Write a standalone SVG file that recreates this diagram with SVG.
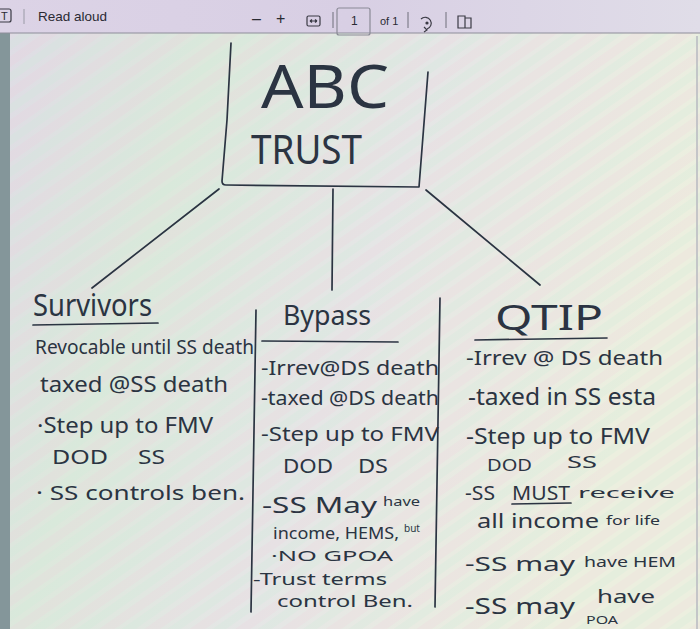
<svg xmlns="http://www.w3.org/2000/svg" width="700" height="629" viewBox="0 0 700 629">
<defs>
<linearGradient id="paper" x1="0" y1="0" x2="1" y2="0.3">
<stop offset="0" stop-color="#dfdbe6"/>
<stop offset="0.3" stop-color="#dde8dc"/>
<stop offset="0.6" stop-color="#e5e6e6"/>
<stop offset="1" stop-color="#ecefdf"/>
</linearGradient>
<pattern id="moire" width="26" height="26" patternUnits="userSpaceOnUse" patternTransform="rotate(-35)">
<rect width="26" height="9" fill="#f2c9d8" opacity="0.16"/>
<rect y="13" width="26" height="8" fill="#c9ecd6" opacity="0.2"/>
</pattern>
<linearGradient id="bar" x1="0" y1="0" x2="1" y2="0">
<stop offset="0" stop-color="#dcd3e6"/>
<stop offset="0.5" stop-color="#d8cfe4"/>
<stop offset="1" stop-color="#e0dde8"/>
</linearGradient>
<style>
.ink{fill:none;stroke:#2b3442;stroke-width:1.7;stroke-linecap:round;stroke-linejoin:round}
.hw{font-family:"Noto Sans","DejaVu Sans",sans-serif;fill:#2b3442}
.ui{font-family:"Liberation Sans","Noto Sans",sans-serif;fill:#2a2a33}
.uil{fill:none;stroke:#3a3a44;stroke-width:1.2}
</style>
</defs>

<!-- screen / page background -->
<rect x="0" y="0" width="700" height="629" fill="url(#paper)"/>
<rect x="0" y="33" width="700" height="596" fill="url(#moire)"/>
<rect x="0" y="33" width="10" height="596" fill="#84969a"/>
<line x1="697" y1="36" x2="697" y2="629" stroke="#b7b8c0" stroke-width="1.5"/>

<!-- viewer toolbar -->
<g id="toolbar">
<rect x="0" y="0" width="700" height="33" fill="url(#bar)"/>
<line x1="0" y1="33" x2="700" y2="33" stroke="#8d8d99" stroke-width="1.2"/>
<rect x="-2" y="9" width="13" height="13" rx="2" class="uil"/>
<text x="1" y="20" class="ui" font-size="11">T</text>
<line x1="24" y1="9" x2="24" y2="24" stroke="#9a9aa6"/>
<text x="38" y="21" class="ui" font-size="13.5">Read aloud</text>
<text x="252" y="24" class="ui" font-size="16">–</text>
<text x="276" y="24" class="ui" font-size="16">+</text>
<rect x="307" y="16" width="13" height="10" rx="1.5" class="uil"/>
<path d="M310,21 H317 M310,21 l2,-1.5 M310,21 l2,1.5 M317,21 l-2,-1.5 M317,21 l-2,1.5" class="uil" stroke-width="0.9"/>
<line x1="333" y1="12" x2="333" y2="28" stroke="#6e6e7a"/>
<rect x="337" y="8" width="33" height="27" rx="2" fill="none" stroke="#8a8a96" stroke-width="1.2"/>
<text x="351" y="25" class="ui" font-size="12">1</text>
<text x="380" y="25" class="ui" font-size="11">of 1</text>
<line x1="408" y1="12" x2="408" y2="28" stroke="#6e6e7a"/>
<path d="M421,19 A6,6 0 1 1 427,29" class="uil" stroke-width="1.5"/>
<circle cx="427" cy="23" r="1.6" fill="#3a3a44"/>
<path d="M424,27 L427,30 L424,32" class="uil" stroke-width="1.2"/>
<line x1="446" y1="12" x2="446" y2="28" stroke="#6e6e7a"/>
<path d="M458,16 H465 V28 H458 Z M465,18 H471 V28 H465" class="uil" stroke="#7c7c88"/>
</g>

<!-- connectors -->
<g id="connectors">
<path class="ink" d="M219,189 L92,288"/>
<path class="ink" d="M333,189 L332,290"/>
<path class="ink" d="M426,190 L540,285"/>
</g>

<!-- root node -->
<g id="abc-trust">
<path class="ink" d="M231,43 L227,120 L222,181 Q222,185 226,185 L419,187 L428,72"/>
<text x="261" y="108" class="hw" font-size="60" textLength="128" lengthAdjust="spacingAndGlyphs">ABC</text>
<text x="251" y="164" class="hw" font-size="40" textLength="111" lengthAdjust="spacingAndGlyphs">TRUST</text>
</g>

<!-- column dividers -->
<g id="dividers">
<path class="ink" d="M256,310 L251,612"/>
<path class="ink" d="M440,298 L435,607"/>
</g>

<g id="survivors">
<text x="33" y="316" class="hw" font-size="30" textLength="119" lengthAdjust="spacingAndGlyphs">Survivors</text>
<path class="ink" d="M33,325 L158,323"/>
<text x="35" y="354" class="hw" font-size="20" textLength="219" lengthAdjust="spacingAndGlyphs">Revocable until SS death</text>
<text x="40" y="392" class="hw" font-size="22" textLength="188" lengthAdjust="spacingAndGlyphs">taxed @SS death</text>
<text x="37" y="433" class="hw" font-size="21" textLength="176" lengthAdjust="spacingAndGlyphs">·Step up to FMV</text>
<text class="hw" font-size="19" y="464"><tspan x="52" textLength="56" lengthAdjust="spacingAndGlyphs">DOD</tspan> <tspan x="138" textLength="27" lengthAdjust="spacingAndGlyphs">SS</tspan></text>
<text x="36" y="500" class="hw" font-size="20" textLength="209" lengthAdjust="spacingAndGlyphs">· SS controls ben.</text>
</g>

<g id="bypass">
<text x="283" y="325" class="hw" font-size="28" textLength="88" lengthAdjust="spacingAndGlyphs">Bypass</text>
<path class="ink" d="M262,341 L398,342"/>
<text x="261" y="375" class="hw" font-size="20" textLength="178" lengthAdjust="spacingAndGlyphs">-Irrev@DS death</text>
<text x="261" y="405" class="hw" font-size="20" textLength="178" lengthAdjust="spacingAndGlyphs">-taxed @DS death</text>
<text x="261" y="441" class="hw" font-size="20" textLength="178" lengthAdjust="spacingAndGlyphs">-Step up to FMV</text>
<text class="hw" font-size="19" y="473"><tspan x="283" textLength="50" lengthAdjust="spacingAndGlyphs">DOD</tspan> <tspan x="358" textLength="30" lengthAdjust="spacingAndGlyphs">DS</tspan></text>
<text class="hw" y="513"><tspan x="262" font-size="21" textLength="115" lengthAdjust="spacingAndGlyphs">-SS May</tspan> <tspan x="383" y="506" font-size="13" textLength="37" lengthAdjust="spacingAndGlyphs">have</tspan></text>
<text class="hw" y="539"><tspan x="273" font-size="17" textLength="126" lengthAdjust="spacingAndGlyphs">income, HEMS,</tspan> <tspan x="404" y="532" font-size="10" textLength="16" lengthAdjust="spacingAndGlyphs">but</tspan></text>
<text x="271" y="561" class="hw" font-size="15" textLength="122" lengthAdjust="spacingAndGlyphs">·NO GPOA</text>
<text x="253" y="585" class="hw" font-size="16" textLength="134" lengthAdjust="spacingAndGlyphs">-Trust terms</text>
<text x="277" y="607" class="hw" font-size="16" textLength="136" lengthAdjust="spacingAndGlyphs">control Ben.</text>
</g>

<g id="qtip">
<text x="495" y="330" class="hw" font-size="34" textLength="108" lengthAdjust="spacingAndGlyphs">QTIP</text>
<path class="ink" d="M475,340 L607,338"/>
<text x="466" y="365" class="hw" font-size="20" textLength="197" lengthAdjust="spacingAndGlyphs">-Irrev @ DS death</text>
<text x="468" y="405" class="hw" font-size="23" textLength="188" lengthAdjust="spacingAndGlyphs">-taxed in SS esta</text>
<text x="466" y="444" class="hw" font-size="21" textLength="184" lengthAdjust="spacingAndGlyphs">-Step up to FMV</text>
<text class="hw" font-size="17" y="471"><tspan x="487" textLength="45" lengthAdjust="spacingAndGlyphs">DOD</tspan> <tspan x="567" y="468" textLength="30" lengthAdjust="spacingAndGlyphs">SS</tspan></text>
<text class="hw" y="500"><tspan x="465" font-size="20" textLength="30" lengthAdjust="spacingAndGlyphs">-SS</tspan> <tspan x="512" font-size="20" textLength="58" lengthAdjust="spacingAndGlyphs">MUST</tspan> <tspan x="578" y="498" font-size="14" textLength="97" lengthAdjust="spacingAndGlyphs">receive</tspan></text>
<path class="ink" d="M512,504 L571,503"/>
<text class="hw" y="528"><tspan x="477" font-size="20" textLength="122" lengthAdjust="spacingAndGlyphs">all income</tspan> <tspan x="606" y="525" font-size="12" textLength="54" lengthAdjust="spacingAndGlyphs">for life</tspan></text>
<text class="hw" y="571"><tspan x="465" font-size="20" textLength="110" lengthAdjust="spacingAndGlyphs">-SS may</tspan> <tspan x="584" y="567" font-size="14" textLength="92" lengthAdjust="spacingAndGlyphs">have HEM</tspan></text>
<text class="hw" y="614"><tspan x="465" font-size="22" textLength="110" lengthAdjust="spacingAndGlyphs">-SS may</tspan> <tspan x="597" y="603" font-size="18" textLength="58" lengthAdjust="spacingAndGlyphs">have</tspan></text>
<text x="586" y="624" class="hw" font-size="10" textLength="32" lengthAdjust="spacingAndGlyphs">POA</text>
</g>
</svg>
